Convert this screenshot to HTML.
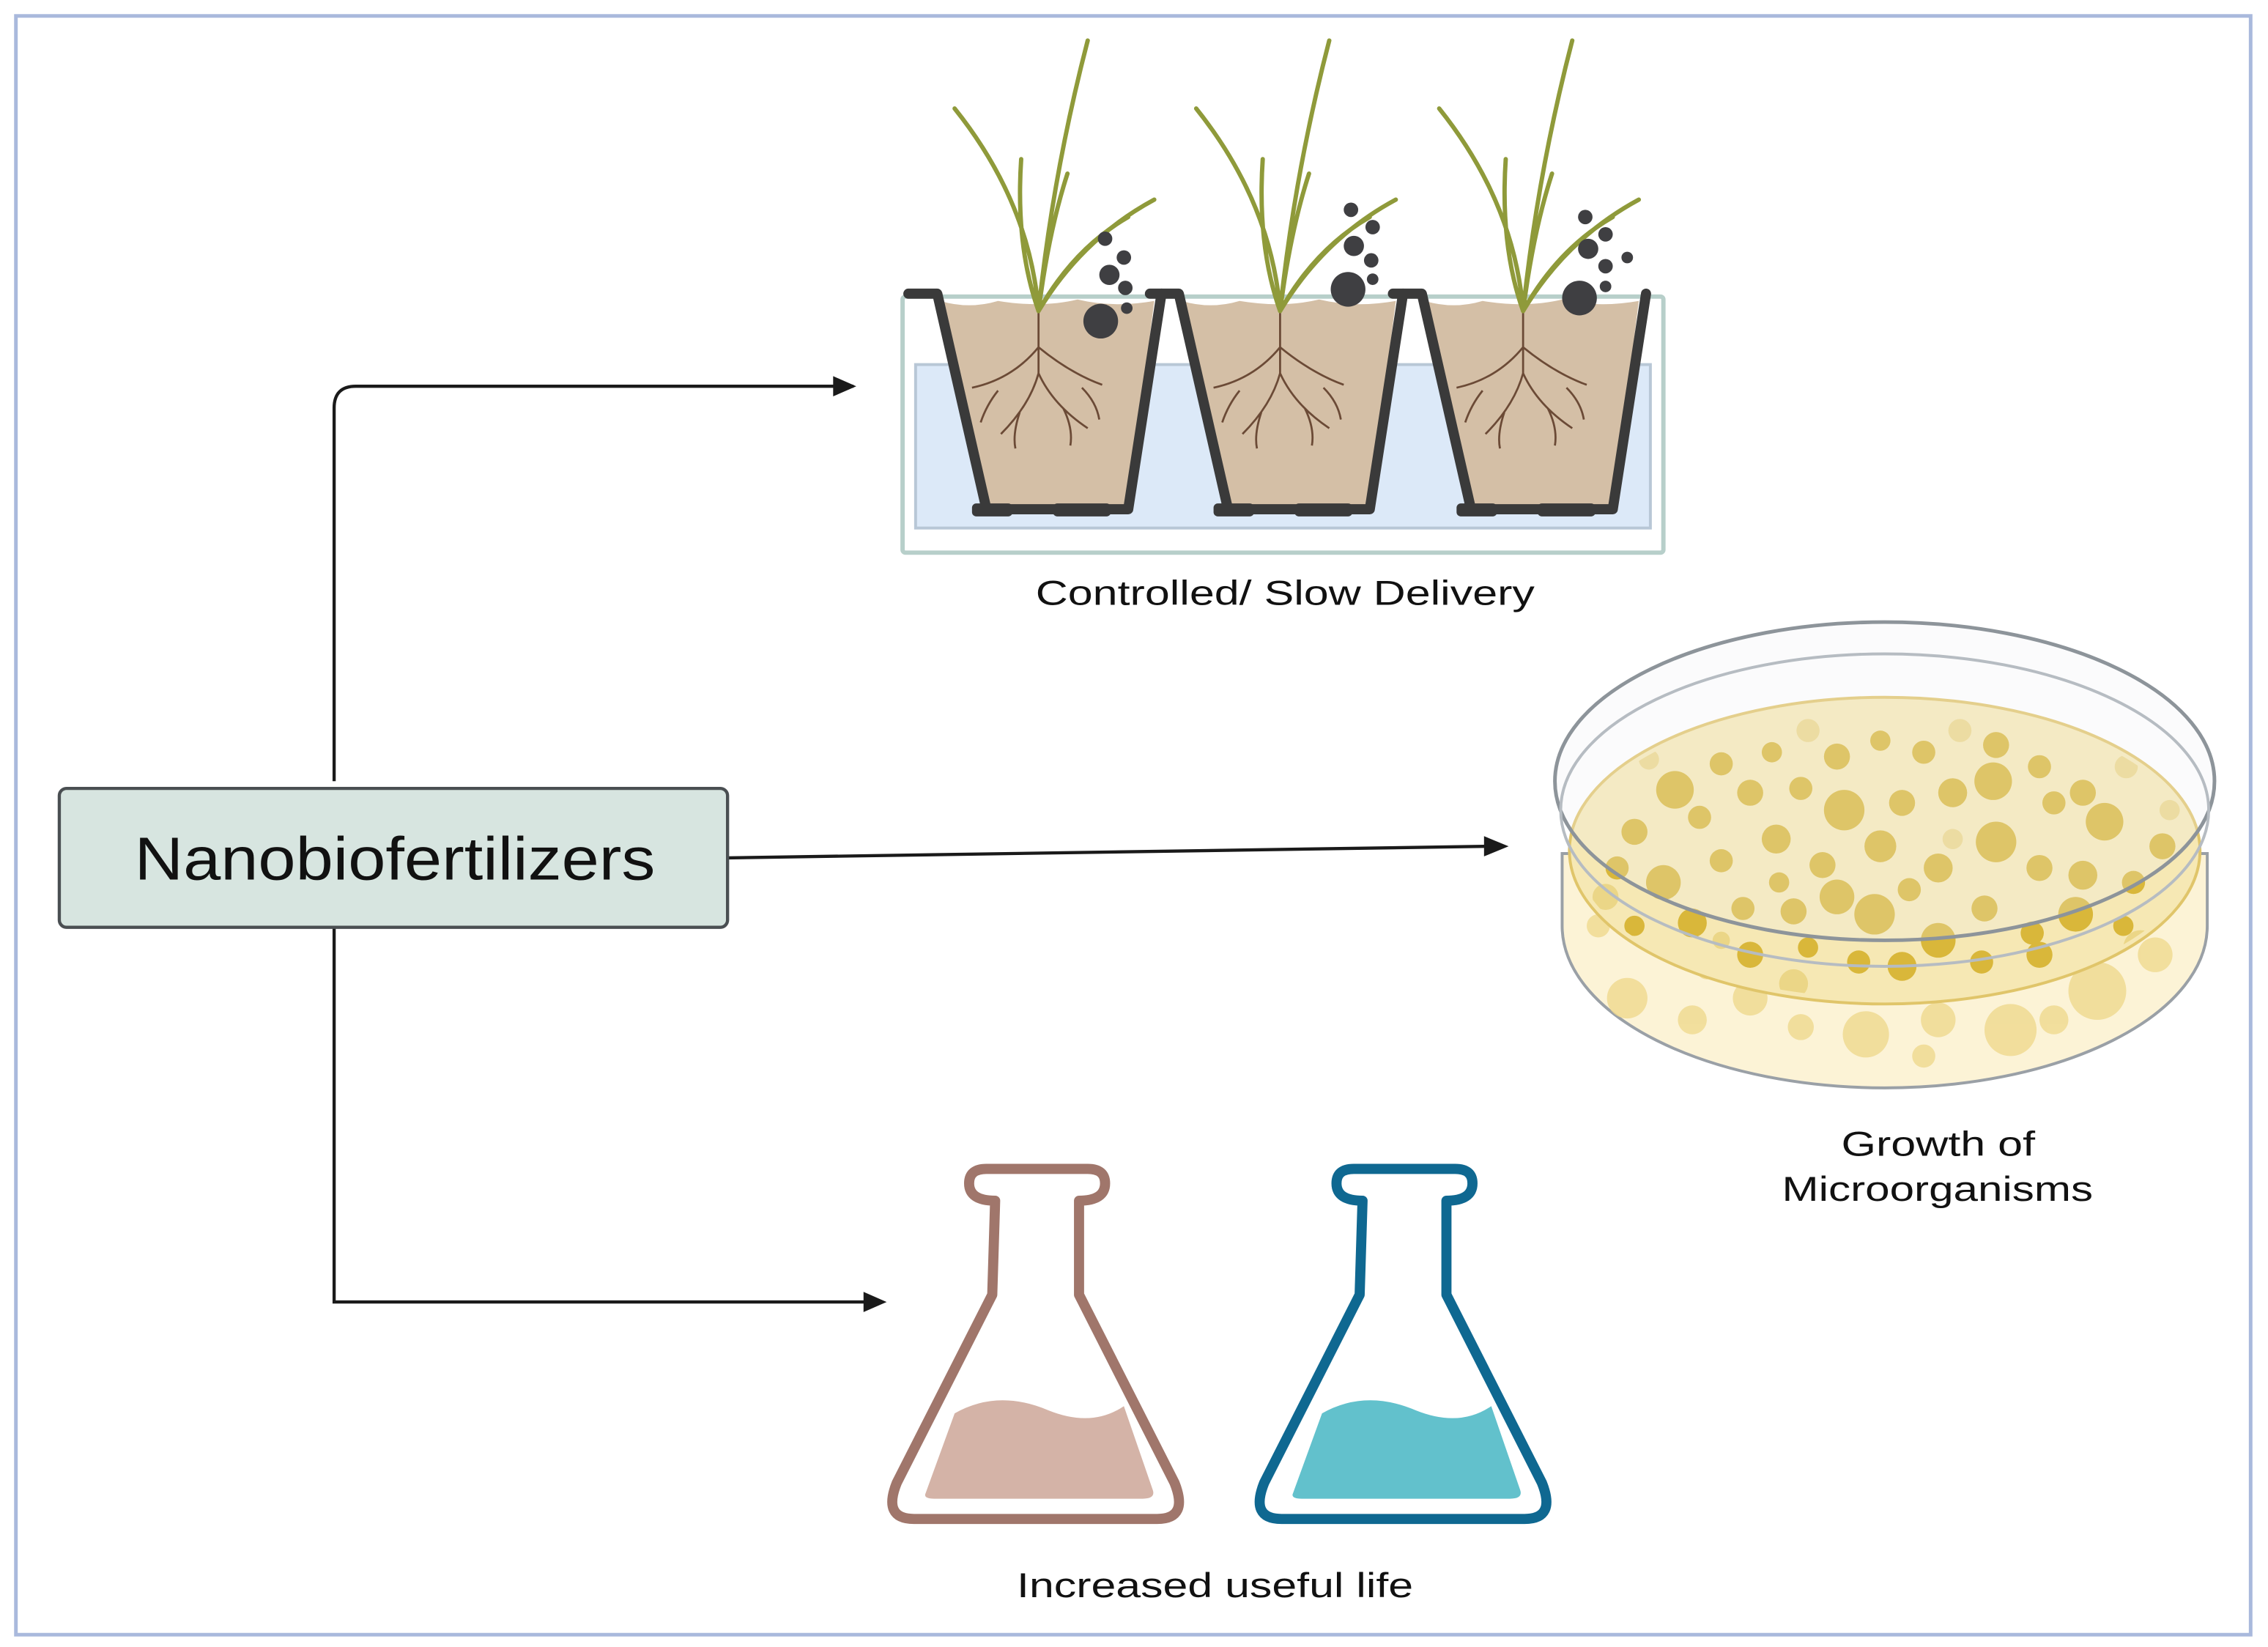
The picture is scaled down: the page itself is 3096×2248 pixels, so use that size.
<!DOCTYPE html>
<html><head><meta charset="utf-8"><style>html,body{margin:0;padding:0;background:#fff}svg{display:block}</style></head>
<body>
<svg width="3096" height="2248" viewBox="0 0 1568 1138.5" xmlns="http://www.w3.org/2000/svg" font-family="Liberation Sans, sans-serif">
<rect x="11" y="11" width="1545" height="1119" fill="#fff" stroke="#a9b9dc" stroke-width="2.5"/>
<defs>
<clipPath id="agar"><ellipse cx="1303" cy="588" rx="214" ry="102"/></clipPath>
<clipPath id="base"><path d="M1080 590 L1080 640 A223 112 0 0 0 1526 640 L1526 590 Z"/></clipPath>
</defs>
<path d="M231 540 L231 282 Q231 267 246 267 L590 267" fill="none" stroke="#1a1a1a" stroke-width="2.2"/>
<path d="M576 260 L592 267 L576 274Z" fill="#1a1a1a"/>
<path d="M503 593 L1030 585" fill="none" stroke="#1a1a1a" stroke-width="2.2"/>
<path d="M1026 578 L1043 585 L1026 592Z" fill="#1a1a1a"/>
<path d="M231 641 L231 900 L600 900" fill="none" stroke="#1a1a1a" stroke-width="2.2"/>
<path d="M597 893 L613 900 L597 907Z" fill="#1a1a1a"/>
<rect x="41" y="545" width="462" height="96" rx="5" fill="#d7e5e0" stroke="#4a4f52" stroke-width="2.2"/>
<text x="93" y="608" font-size="42" textLength="360" lengthAdjust="spacingAndGlyphs" fill="#111">Nanobiofertilizers</text>
<rect x="624" y="205" width="526" height="177" rx="2" fill="#fff" stroke="#b7cfca" stroke-width="3"/>
<rect x="633" y="252" width="508" height="113" fill="#dce9f8" stroke="#b8c7d6" stroke-width="2"/>
<g id="pot">
<path d="M650 208 Q670 214 690 208 Q720 213 745 207 Q770 213 798 208 L780 350 L684 350 Z" fill="#d4bfa6"/>
<path d="M718 212 L718 258 Q712 280 692 300 M718 258 Q728 280 752 296 M718 240 Q700 262 672 268 M718 240 Q740 258 762 266 M705 285 Q700 300 702 310 M735 282 Q742 296 740 308 M690 270 Q682 280 678 292 M748 268 Q758 278 760 290" fill="none" stroke="#6b4a36" stroke-width="1.4"/>
<path d="M628 203 L648 203 L682 352 L780 352 L803 203" fill="none" stroke="#3a3a3a" stroke-width="7" stroke-linejoin="round" stroke-linecap="round"/>
<rect x="672" y="348" width="28" height="9" rx="3" fill="#3a3a3a"/><rect x="728" y="348" width="40" height="9" rx="3" fill="#3a3a3a"/>
<path d="M718 215 Q712 140 660 75 M718 215 Q728 120 752 28 M718 215 Q702 170 706 110 M718 215 Q748 165 798 138 M718 215 Q742 172 780 150 M718 215 Q725 160 738 120" fill="none" stroke="#8f9a3a" stroke-width="3" stroke-linecap="round"/>
</g>
<use href="#pot" x="167"/>
<use href="#pot" x="335"/>
<g fill="#3f3f42">
<circle cx="761" cy="222" r="12"/><circle cx="767" cy="190" r="7"/><circle cx="777" cy="178" r="5"/><circle cx="764" cy="165" r="5"/><circle cx="778" cy="199" r="5"/><circle cx="779" cy="213" r="4"/>
<circle cx="932" cy="200" r="12"/><circle cx="936" cy="170" r="7"/><circle cx="949" cy="157" r="5"/><circle cx="934" cy="145" r="5"/><circle cx="948" cy="180" r="5"/><circle cx="949" cy="193" r="4"/>
<circle cx="1092" cy="206" r="12"/><circle cx="1098" cy="172" r="7"/><circle cx="1110" cy="162" r="5"/><circle cx="1096" cy="150" r="5"/><circle cx="1110" cy="184" r="5"/><circle cx="1125" cy="178" r="4"/><circle cx="1110" cy="198" r="4"/>
</g>
<text x="716" y="418" font-size="24" textLength="345" lengthAdjust="spacingAndGlyphs" fill="#111">Controlled/ Slow Delivery</text>
<path d="M1080 590 L1080 640 A223 112 0 0 0 1526 640 L1526 590 Z" fill="#fcf3d6" stroke="#9aa0a6" stroke-width="2"/>
<g clip-path="url(#base)" fill="#efd98e" opacity="0.8">
<circle cx="1125" cy="690" r="14"/><circle cx="1170" cy="705" r="10"/><circle cx="1210" cy="690" r="12"/><circle cx="1245" cy="710" r="9"/><circle cx="1290" cy="715" r="16"/><circle cx="1340" cy="705" r="12"/><circle cx="1390" cy="712" r="18"/><circle cx="1450" cy="685" r="20"/><circle cx="1490" cy="660" r="12"/><circle cx="1105" cy="640" r="8"/><circle cx="1180" cy="670" r="7"/><circle cx="1420" cy="705" r="10"/><circle cx="1330" cy="730" r="8"/>
</g>
<ellipse cx="1303" cy="588" rx="218" ry="106" fill="#f6e8b4" stroke="#e0c56a" stroke-width="2"/>
<g clip-path="url(#agar)">
<g fill="#d9b73a">
<circle cx="1158" cy="546" r="13"/><circle cx="1190" cy="528" r="8"/><circle cx="1225" cy="520" r="7"/><circle cx="1270" cy="523" r="9"/><circle cx="1300" cy="512" r="7"/><circle cx="1330" cy="520" r="8"/><circle cx="1380" cy="515" r="9"/><circle cx="1410" cy="530" r="8"/><circle cx="1440" cy="548" r="9"/>
<circle cx="1130" cy="575" r="9"/><circle cx="1175" cy="565" r="8"/><circle cx="1210" cy="548" r="9"/><circle cx="1245" cy="545" r="8"/><circle cx="1275" cy="560" r="14"/><circle cx="1315" cy="555" r="9"/><circle cx="1350" cy="548" r="10"/><circle cx="1378" cy="540" r="13"/><circle cx="1420" cy="555" r="8"/><circle cx="1455" cy="568" r="13"/><circle cx="1495" cy="585" r="9"/>
<circle cx="1118" cy="600" r="8"/><circle cx="1150" cy="610" r="12"/><circle cx="1190" cy="595" r="8"/><circle cx="1228" cy="580" r="10"/><circle cx="1260" cy="598" r="9"/><circle cx="1300" cy="585" r="11"/><circle cx="1340" cy="600" r="10"/><circle cx="1380" cy="582" r="14"/><circle cx="1410" cy="600" r="9"/><circle cx="1440" cy="605" r="10"/><circle cx="1475" cy="610" r="8"/>
<circle cx="1130" cy="640" r="7"/><circle cx="1170" cy="638" r="10"/><circle cx="1205" cy="628" r="8"/><circle cx="1240" cy="630" r="9"/><circle cx="1270" cy="620" r="12"/><circle cx="1296" cy="632" r="14"/><circle cx="1340" cy="650" r="12"/><circle cx="1372" cy="628" r="9"/><circle cx="1405" cy="645" r="8"/><circle cx="1435" cy="632" r="12"/><circle cx="1468" cy="640" r="7"/>
<circle cx="1210" cy="660" r="9"/><circle cx="1250" cy="655" r="7"/><circle cx="1285" cy="665" r="8"/><circle cx="1315" cy="668" r="10"/><circle cx="1370" cy="665" r="8"/><circle cx="1410" cy="660" r="9"/><circle cx="1230" cy="610" r="7"/><circle cx="1320" cy="615" r="8"/>
</g>
<g fill="#ebd687">
<circle cx="1140" cy="525" r="7"/><circle cx="1250" cy="505" r="8"/><circle cx="1355" cy="505" r="8"/><circle cx="1470" cy="530" r="8"/><circle cx="1500" cy="560" r="7"/><circle cx="1110" cy="620" r="9"/><circle cx="1480" cy="655" r="12"/><circle cx="1190" cy="650" r="6"/><circle cx="1350" cy="580" r="7"/><circle cx="1240" cy="680" r="10"/><circle cx="1440" cy="680" r="11"/>
</g>
</g>
<ellipse cx="1303" cy="540" rx="228" ry="110" fill="#eef1f3" fill-opacity="0.25" stroke="#8d949a" stroke-width="2.5"/>
<ellipse cx="1303" cy="560" rx="224" ry="108" fill="none" stroke="#b6bcc2" stroke-width="2"/>
<text x="1273" y="799" font-size="24" textLength="134" lengthAdjust="spacingAndGlyphs" fill="#111">Growth of</text>
<text x="1232" y="830" font-size="24" textLength="215" lengthAdjust="spacingAndGlyphs" fill="#111">Microorganisms</text>
<path d="M640 1032 L660 977 Q690 960 725 975 Q755 987 777 972 L797 1030 Q799 1036 790 1036 L646 1036 Q638 1036 640 1032Z" fill="#d4b3a7"/>
<path d="M688 830 Q670 830 670 818 Q670 808 682 808 L752 808 Q764 808 764 818 Q764 830 746 830 L746 895 L812 1025 Q822 1050 800 1050 L632 1050 Q610 1050 620 1025 L686 895 Z" fill="none" stroke="#a0766b" stroke-width="7" stroke-linejoin="round"/>
<path d="M894 1032 L914 977 Q944 960 979 975 Q1009 987 1031 972 L1051 1030 Q1053 1036 1044 1036 L900 1036 Q892 1036 894 1032Z" fill="#62c1cc"/>
<path d="M942 830 Q924 830 924 818 Q924 808 936 808 L1006 808 Q1018 808 1018 818 Q1018 830 1000 830 L1000 895 L1066 1025 Q1076 1050 1054 1050 L886 1050 Q864 1050 874 1025 L940 895 Z" fill="none" stroke="#0f6891" stroke-width="7" stroke-linejoin="round"/>
<text x="703" y="1104" font-size="24" textLength="274" lengthAdjust="spacingAndGlyphs" fill="#111">Increased useful life</text>
</svg>
</body></html>
